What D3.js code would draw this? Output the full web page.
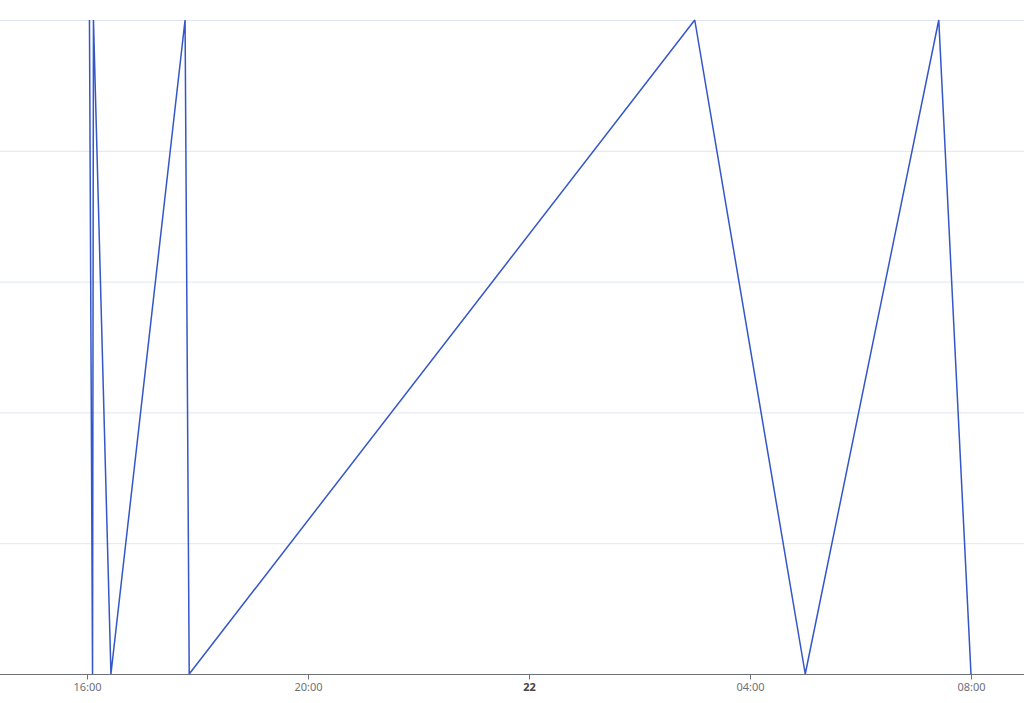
<!DOCTYPE html>
<html>
<head>
<meta charset="utf-8">
<script src="https://cdn.jsdelivr.net/npm/d3@7"></script>
<style>
  html, body { margin: 0; padding: 0; background: #fff; }
  svg { display: block; }
</style>
</head>
<body>
<div id="chart"></div>
<script>
// sample times (21st afternoon -> 22nd morning) and on/off state
var times = [
  "2023-03-21 16:02:40", "2023-03-21 16:06:00", "2023-03-21 16:07:00",
  "2023-03-21 16:26:00", "2023-03-21 17:46:30", "2023-03-21 17:51:00",
  "2023-03-22 03:00:00", "2023-03-22 05:00:00", "2023-03-22 07:25:00",
  "2023-03-22 08:00:00"
];
var values = [1, 0, 1, 0, 1, 0, 1, 0, 1, 0];
var yTicks = [0, 0.2, 0.4, 0.6, 0.8, 1];

var parse = d3.timeParse("%Y-%m-%d %H:%M:%S");
var data = times.map(function(t, i) { return {t: parse(t), v: values[i]}; });

var width = 1024, height = 703;
var plotTop = 20, plotBottom = 674;

var svg = d3.select("#chart").append("svg")
  .attr("width", width)
  .attr("height", height);

// 16:00 sits at x=87, 08:00 next day at x=971
var x = d3.scaleTime()
  .domain([parse("2023-03-21 16:00:00"), parse("2023-03-22 08:00:00")])
  .range([87, 971]);

var y = d3.scaleLinear()
  .domain([0, 1])
  .range([plotBottom, plotTop]);

// horizontal grid lines
svg.append("g")
  .selectAll("line")
  .data(yTicks.filter(function(d) { return d > 0; }))
  .enter().append("line")
    .attr("x1", 0)
    .attr("x2", width)
    .attr("y1", function(d) { return y(d) + 0.5; })
    .attr("y2", function(d) { return y(d) + 0.5; })
    .attr("stroke", "#e0e6f1")
    .attr("stroke-width", 1);

// x axis
var fmt = d3.timeFormat("%H:%M");
var xAxis = svg.append("g")
  .attr("transform", "translate(0," + (plotBottom + 0.5) + ")")
  .call(d3.axisBottom(x)
    .ticks(d3.timeHour.every(4))
    .tickSize(5)
    .tickPadding(4)
    .tickFormat(function(d) {
      return d.getHours() === 0 ? d3.timeFormat("%-d")(d) : fmt(d);
    }));

xAxis.select(".domain").remove();
xAxis.append("line")
  .attr("x1", 0).attr("x2", width)
  .attr("stroke", "#6e7079").attr("stroke-width", 1);
xAxis.selectAll(".tick line").attr("stroke", "#6e7079");
xAxis.selectAll(".tick text")
  .attr("fill", function(d) { return d.getHours() === 0 ? "#464646" : "#6e7079"; })
  .style("font-family", "'Microsoft YaHei', 'Noto Sans', sans-serif")
  .style("font-size", "11px")
  .style("font-weight", function(d) { return d.getHours() === 0 ? "bold" : "normal"; });

// the series line
var line = d3.line()
  .x(function(d) { return x(d.t); })
  .y(function(d) { return y(d.v); });

svg.append("path")
  .datum(data)
  .attr("fill", "none")
  .attr("stroke", "#3456c9")
  .attr("stroke-width", 1.5)
  .attr("stroke-linejoin", "bevel")
  .attr("d", line);
</script>
</body>
</html>
